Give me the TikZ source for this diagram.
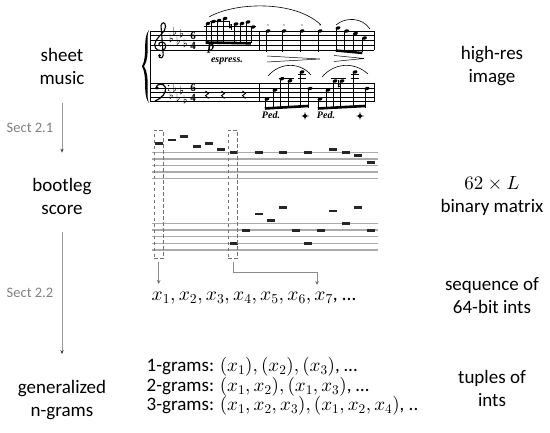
\documentclass[tikz,border=0pt]{standalone}
\usepackage{fontspec}
\setmainfont{Carlito}
\newfontfamily\musicfont{Liberation Serif}
\DeclareFontShape{OML}{cmm}{m}{it}{<->cmmi10}{}
\DeclareFontShape{OT1}{cmr}{m}{n}{<->cmr10}{}
\DeclareFontShape{OMS}{cmsy}{m}{n}{<->cmsy10}{}
\usetikzlibrary{arrows.meta}
\newcommand\mnote[3]{%
  \fill[rotate around={20:(#1,#2)}] (#1,#2) ellipse (2.5pt and 1.7pt);
  \draw[line width=0.45pt] (#1-2.2,#2) -- (#1-2.2,#3);}
\begin{document}
\begin{tikzpicture}[x=1pt,y=-1pt,
  lbl/.style={align=center,font=\fontsize{19}{23}\selectfont,inner sep=0pt},
  sect/.style={font=\fontsize{14.5}{16}\selectfont,text=black!50,inner sep=0pt},
  flowarrow/.style={draw=black!40,line width=0.7pt,-{Stealth[length=4pt,width=3.4pt,color=black!75]}},
  garrow/.style={draw=black!45,line width=0.9pt,-{Stealth[length=4pt,width=3.6pt,color=black!55]}},
  staff/.style={line width=0.55pt},
  bline/.style={draw=black!33,line width=1.4pt},
  dbox/.style={draw=black!55,line width=0.7pt,dash pattern=on 3.5pt off 2.5pt,inner sep=0pt,minimum width=9.3pt,minimum height=128pt},
  bnote/.style={fill=black!85},
  mtext/.style={font=\musicfont\bfseries\itshape\fontsize{10}{10}\selectfont,inner sep=0pt},
  tsig/.style={font=\musicfont\bfseries\fontsize{11}{11}\selectfont,inner sep=0pt},
  ngram/.style={anchor=base west,inner sep=0pt,font=\fontsize{19}{19}\selectfont},
  flatsign/.pic={\draw[line width=0.45pt] (0,-6.5) -- (0,1.6) .. controls (3.6,-0.6) and (3,-3.6) .. (0,-1.6);},
  ledger/.style={line width=0.5pt}
]
\useasboundingbox (0,0) rectangle (550,433);

% ---------------- left labels and flow arrows
\node[lbl] (sheet) at (62,66) {sheet\\music};
\node[lbl] (boot) at (62,196) {bootleg\\score};
\node[lbl] (gen) at (62,400) {generalized\\n-grams};
\draw[flowarrow] ([yshift=-19pt]sheet.south) -- ([yshift=25pt]boot.north);
\draw[flowarrow] ([yshift=-18pt]boot.south) -- ([yshift=26pt]gen.north);
\node[sect] (s1) at (30,128) {Sect 2.1};
\node[sect] (s2) at (30,293) {Sect 2.2};

% ---------------- right labels
\node[lbl] (hires) at (492,66) {high-res\\image};
\node[lbl] (bin) at (492,196) {$62\times L$\\binary matrix};
\node[lbl] (seqlbl) at (492,296) {sequence of\\64-bit ints};
\node[lbl] (tup) at (492,388) {tuples of\\ints};

% ---------------- sheet music
\foreach \y in {31,35.75,40.5,45.25,50} \draw[staff] (150,\y) -- (374,\y);
\foreach \y in {83.3,87.9,92.5,97.1,101.7} \draw[staff] (150,\y) -- (374,\y);
\draw[line width=0.8pt] (150,31) -- (150,101.7);
\draw[line width=0.7pt] (259,31) -- (259,50) (259,83.3) -- (259,101.7);
\draw[line width=0.8pt] (374,31) -- (374,50) (374,83.3) -- (374,101.7);
% brace
\fill (149,30) .. controls (142,38) and (148,56) .. (142,66.3) .. controls (148,77) and (142,95) .. (149,103)
  .. controls (145,95) and (151,77) .. (144,66.3) .. controls (151,56) and (145,38) .. (149,30) -- cycle;
% treble clef
\draw[line width=1.1pt] (161,46) .. controls (158,46) and (158,42) .. (162,42) .. controls (166.5,42) and (167.5,49.5) .. (162,50.5)
  .. controls (155.5,51.5) and (153,46) .. (156,40.5) .. controls (159,35.5) and (165.5,32) .. (165.5,26.5)
  .. controls (165.5,22) and (162,21.5) .. (161,25.5) -- (163.2,55) .. controls (163.2,58.5) and (159,58.5) .. (159,56);
\fill (159.6,55.6) circle (1.5pt);
% bass clef
\fill (157,87.9) circle (1.7pt);
\draw[line width=1.2pt] (156,87.9) .. controls (156,83.5) and (164,82.5) .. (165.5,87.5) .. controls (166.5,93) and (162,98) .. (155,101);
\fill (168.5,85.6) circle (0.8pt) (168.5,90.2) circle (0.8pt);
% key signatures (5 flats)
\foreach \x/\y in {170/40.5,173.5/33.4,177/42.9,180.5/35.75,184/45.25} \pic at (\x,\y) {flatsign};
\foreach \x/\y in {170/97.1,173.5/90.2,177/99.4,180.5/92.5,184/101.7} \pic at (\x,\y) {flatsign};
% time signatures
\node[tsig] (t1) at (193,35.6) {6};
\node[tsig] (t2) at (193,45.6) {4};
\node[tsig] (t3) at (193,87.8) {6};
\node[tsig] (t4) at (193,97.6) {4};
% measure 1 treble: beamed group above staff
\draw[ledger] (204,26.25) -- (256,26.25) (210,21.5) -- (229,21.5);
\foreach \x/\y in {208/23.5,213.5/21.5,219/20.5,225/18.5,236/24,242/23.5,248/22,253/27} \mnote{\x}{\y}{43};
\draw[line width=2.6pt] (205.6,42.5) -- (251,43.3);
% natural sign
\draw[line width=0.45pt] (229,21.5) -- (229,28) (231.5,24) -- (231.5,30.5);
\draw[line width=1pt] (229,25.5) -- (231.5,24.5) (229,28) -- (231.5,27);
\node[mtext,font=\musicfont\bfseries\itshape\fontsize{13}{13}\selectfont] (pdyn) at (211,49) {p};
\node[mtext] (esp) at (227,61) {espress.};
% long slur
\draw[line width=0.6pt] (209,17) .. controls (235,2) and (295,0) .. (321,25);
% measure 2 treble
\foreach \x in {268,284,302,320} {\mnote{\x}{31}{52} \fill (\x,25) circle (0.7pt);}
\foreach \x/\y in {338/28,346.5/31,355.5/33.5,364.5/38} \mnote{\x}{\y}{52};
\draw[line width=2.4pt] (335.8,50.5) -- (362.3,53);
\draw[line width=0.6pt] (336,25) .. controls (345,17) and (362,17) .. (370,29);
% hairpins
\draw[line width=0.5pt] (267,56) -- (320,59) -- (267,62);
\draw[line width=0.5pt] (334,55.5) -- (364,58.5) -- (334,61.5);
% measure 1 bass: rests
\foreach \x in {207,223,244} \draw[line width=0.9pt] (\x-1.5,91) -- (\x+1.5,93.5) -- (\x-1.5,95.5) -- (\x+1.5,98.5);
% measure 2 bass: two arpeggio groups
\draw[ledger] (278.5,78.7) -- (293.5,78.7) (298,78.7) -- (306,78.7) (298,74.1) -- (306,74.1);
\draw[ledger] (331,78.7) -- (346,78.7) (351,78.7) -- (359,78.7) (351,74.1) -- (359,74.1);
\foreach \x/\y in {267/99,275/90,282/78.7,290/80.8,302/72,310/88.5} \mnote{\x}{\y}{108};
\foreach \x/\y in {320/99,328/90,335/81,342/81,355/72,367/88.5} \mnote{\x}{\y}{108};
\draw[line width=2.6pt] (264.8,108.5) -- (307.8,106);
\draw[line width=2.6pt] (317.8,108.5) -- (364.8,106);
\draw[line width=0.6pt] (268,76) .. controls (280,62) and (300,62) .. (311,75);
\draw[line width=0.6pt] (322,77) .. controls (335,62) and (355,62) .. (368,74);
\draw[line width=0.45pt] (338,80) -- (338,87) (340.5,83) -- (340.5,90);
\draw[line width=1pt] (338,84.5) -- (340.5,83.5) (338,87) -- (340.5,86);
% pedal marks
\node[mtext] (ped1) at (271,115.5) {Ped.};
\node[mtext] (ped2) at (326,115.5) {Ped.};
\foreach \x in {305,360} {\draw[line width=0.8pt] (\x,116) circle (1.8pt) (\x-3.5,116) -- (\x+3.5,116) (\x,112.5) -- (\x,119.5);}

% ---------------- bootleg score
\foreach \y in {152.3,158.9,165.5,172.1,178.7,223.3,230,236.7,243.3,250} \draw[bline] (151.7,\y) -- (378,\y);
\foreach \x/\y in {159/143.3,171.7/140,184/136.7,196.7/146.7,209/143.3,220.7/149.5,234/152.3,
  258.7/152.3,283.3/152.3,308.3/152.3,332.7/149.3,346/152.3,357.7/155.7,370.7/162.3,
  234/243.3,246/230.5,258.7/214,271/220.7,283.3/207.7,295.7/230.3,308.3/243.3,320.7/230.3,
  332.7/211,346/223.7,357.7/207.7,370.7/230.3}
  \fill[bnote] (\x-4,\y-1.4) rectangle (\x+4,\y+1.4);
\node[dbox] (b1) at (158.7,194.5) {};
\node[dbox] (b2) at (233,194.5) {};

% ---------------- sequence of ints
\node[anchor=west,inner sep=0pt,font=\fontsize{19.5}{24}\selectfont] (seq) at (151.5,298)
  {$x_1, x_2, x_3, x_4, x_5, x_6, x_7$, \ldots};
\coordinate (x1top) at (158.7,284);
\coordinate (x7top) at (317,285);
\draw[garrow] ([yshift=-3pt]b1.south) -- (x1top);
\draw[garrow] ([yshift=-3pt]b2.south) -- ++(0,11) -| (x7top);

% ---------------- n-grams
\node[ngram] (ng1) at (146.5,372) {1-grams: $(x_1), (x_2), (x_3)$, \ldots};
\node[ngram] (ng2) at (146.5,391.5) {2-grams: $(x_1, x_2), (x_1, x_3)$, \ldots};
\node[ngram] (ng3) at (146.5,411) {3-grams: $(x_1, x_2, x_3), (x_1, x_2, x_4)$, ..};
\end{tikzpicture}
\end{document}
